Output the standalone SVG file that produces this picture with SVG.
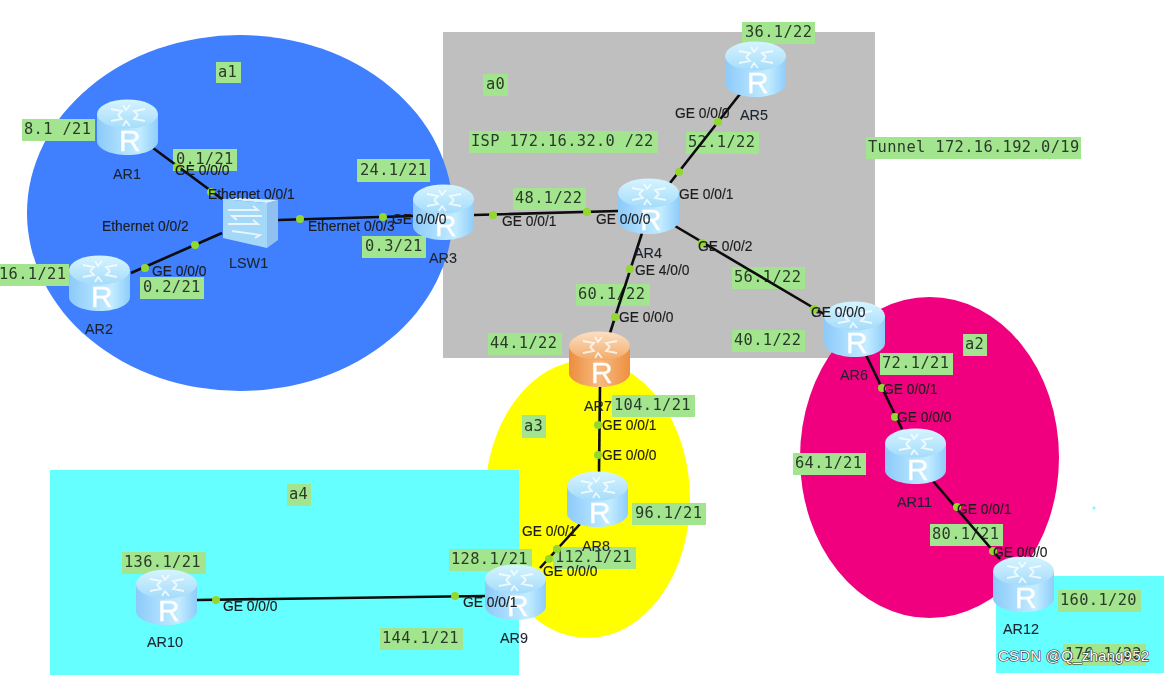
<svg xmlns="http://www.w3.org/2000/svg" xmlns:xlink="http://www.w3.org/1999/xlink" width="1164" height="675" viewBox="0 0 1164 675">
<style>
.lb{fill:#a3e48e}
.lt{font:15.4px "DejaVu Sans Mono","Liberation Mono",monospace;letter-spacing:.35px;fill:#2b3a2b}
.if{font:13.8px "Liberation Sans",Arial,sans-serif;fill:#1c1c1c;stroke:#1c1c1c;stroke-width:.15}
.nm{font:14.4px "Liberation Sans",Arial,sans-serif;fill:#1c2430;stroke:#1c2430;stroke-width:.1}
.ln{fill:none;stroke:#0a0a0a;stroke-width:2.6}
.dot{fill:#93d82e}
.rr{font:30px "Liberation Sans",Arial,sans-serif;fill:#fff;stroke:#fff;stroke-width:.3}
.ar{fill:none;stroke:#fff;stroke-width:1.8;opacity:.75}
</style>
<defs>
<filter id="soft" x="0" y="0" width="100%" height="100%"><feGaussianBlur stdDeviation="0.45"/></filter>
<linearGradient id="bb" x1="0" x2="1" y1="0" y2="0"><stop offset="0" stop-color="#8ccaf8"/><stop offset=".35" stop-color="#a9dcff"/><stop offset=".7" stop-color="#c3ecff"/><stop offset="1" stop-color="#8ecdfa"/></linearGradient>
<linearGradient id="bt" x1="0" x2="0" y1="0" y2="1"><stop offset="0" stop-color="#d6f4ff"/><stop offset="1" stop-color="#a5dcfa"/></linearGradient>
<linearGradient id="ob" x1="0" x2="1" y1="0" y2="0"><stop offset="0" stop-color="#ec8d3e"/><stop offset=".5" stop-color="#f7ba80"/><stop offset="1" stop-color="#ee8f40"/></linearGradient>
<linearGradient id="ot" x1="0" x2="0" y1="0" y2="1"><stop offset="0" stop-color="#fbe0c4"/><stop offset="1" stop-color="#f2aa68"/></linearGradient>
<g id="arrows">
<path class="ar" d="M14 9l11 2-4 4M48 9l-11 2 4 4M14 21l11-2-4-4M48 21l-11-2 4-4M26 5l3 5 4-5M26 26l3-5 4 5"/>
</g>
<g id="router">
<path fill="url(#bb)" d="M0 14v27c0 8 14 14 30.500 14s30.500-6 30.500-14V14z"/>
<ellipse cx="30.500" cy="14" rx="30.500" ry="14.500" fill="url(#bt)"/>
<use href="#arrows"/>
<text class="rr" x="22" y="51">R</text>
</g>
<g id="router-o">
<path fill="url(#ob)" d="M0 14v27c0 8 14 14 30.500 14s30.500-6 30.500-14V14z"/>
<ellipse cx="30.500" cy="14" rx="30.500" ry="14.500" fill="url(#ot)"/>
<use href="#arrows"/>
<text class="rr" x="22" y="51">R</text>
</g>
</defs>
<rect width="1164" height="675" fill="#fff"/>
<g filter="url(#soft)">
<g id="areas">
<rect x="443" y="32" width="432" height="326" fill="#bfbfbf"/>
<ellipse cx="240" cy="213" rx="213" ry="178" fill="#4080ff"/>
<ellipse cx="587.500" cy="499" rx="102.500" ry="139" fill="#ffff00"/>
<ellipse cx="929.500" cy="457.500" rx="129.500" ry="160.500" fill="#f0047f"/>
<rect x="50" y="470" width="469" height="205" fill="#66ffff"/>
<rect x="996" y="576" width="168" height="97" fill="#66ffff"/>
<circle cx="1094" cy="508" r="1.500" fill="#66ffff"/>
</g>
<g id="labels">
<rect class="lb" x="22" y="119" width="73" height="22"/><text class="lt" x="24" y="134" xml:space="preserve">8.1 /21</text>
<rect class="lb" x="173" y="149" width="64" height="22"/><text class="lt" x="176" y="164">0.1/21</text>
<rect class="lb" x="357" y="159" width="73" height="23"/><text class="lt" x="360" y="175">24.1/21</text>
<rect class="lb" x="362" y="236" width="64" height="22"/><text class="lt" x="365" y="251">0.3/21</text>
<rect class="lb" x="0" y="264" width="69" height="22"/><text class="lt" x="-1" y="279">16.1/21</text>
<rect class="lb" x="140" y="277" width="64" height="22"/><text class="lt" x="143" y="292">0.2/21</text>
<rect class="lb" x="216" y="62" width="25" height="21"/><text class="lt" x="218" y="77">a1</text>
<rect class="lb" x="483" y="74" width="25" height="22"/><text class="lt" x="486" y="89">a0</text>
<rect class="lb" x="469" y="131" width="189" height="22"/><text class="lt" x="471" y="146">ISP 172.16.32.0 /22</text>
<rect class="lb" x="742" y="22" width="73" height="22"/><text class="lt" x="745" y="37">36.1/22</text>
<rect class="lb" x="686" y="132" width="73" height="22"/><text class="lt" x="688" y="147">52.1/22</text>
<rect class="lb" x="513" y="188" width="73" height="22"/><text class="lt" x="515" y="203">48.1/22</text>
<rect class="lb" x="732" y="267" width="73" height="22"/><text class="lt" x="734" y="282">56.1/22</text>
<rect class="lb" x="576" y="284" width="74" height="22"/><text class="lt" x="578" y="299">60.1/22</text>
<rect class="lb" x="488" y="333" width="74" height="22"/><text class="lt" x="490" y="348">44.1/22</text>
<rect class="lb" x="732" y="330" width="73" height="22"/><text class="lt" x="734" y="345">40.1/22</text>
<rect class="lb" x="866" y="137" width="215" height="22"/><text class="lt" x="868" y="152">Tunnel 172.16.192.0/19</text>
<rect class="lb" x="612" y="395" width="83" height="22"/><text class="lt" x="614" y="410">104.1/21</text>
<rect class="lb" x="522" y="415" width="24" height="23"/><text class="lt" x="524" y="431">a3</text>
<rect class="lb" x="632" y="503" width="74" height="22"/><text class="lt" x="635" y="518">96.1/21</text>
<rect class="lb" x="449" y="549" width="83" height="22"/><text class="lt" x="451" y="564">128.1/21</text>
<rect class="lb" x="553" y="547" width="83" height="22"/><text class="lt" x="555" y="562">112.1/21</text>
<rect class="lb" x="380" y="628" width="83" height="22"/><text class="lt" x="382" y="643">144.1/21</text>
<rect class="lb" x="287" y="484" width="24" height="22"/><text class="lt" x="289" y="499">a4</text>
<rect class="lb" x="122" y="552" width="84" height="22"/><text class="lt" x="124" y="567">136.1/21</text>
<rect class="lb" x="880" y="353" width="73" height="22"/><text class="lt" x="882" y="368">72.1/21</text>
<rect class="lb" x="963" y="334" width="24" height="22"/><text class="lt" x="965" y="349">a2</text>
<rect class="lb" x="793" y="453" width="73" height="22"/><text class="lt" x="795" y="468">64.1/21</text>
<rect class="lb" x="930" y="524" width="73" height="22"/><text class="lt" x="932" y="539">80.1/21</text>
<rect class="lb" x="1058" y="590" width="83" height="22"/><text class="lt" x="1060" y="605">160.1/20</text>
<rect class="lb" x="1063" y="644" width="83" height="22"/><text class="lt" x="1065" y="659">176.1/22</text>
</g>
<g id="connectors">
<line class="ln" x1="153" y1="148" x2="222" y2="199"/>
<line class="ln" x1="131" y1="273" x2="222" y2="233"/>
<line class="ln" x1="278" y1="220" x2="413" y2="216"/>
<line class="ln" x1="474" y1="215" x2="618" y2="211"/>
<line class="ln" x1="670" y1="183" x2="740" y2="94"/>
<line class="ln" x1="675" y1="226" x2="824" y2="314"/>
<line class="ln" x1="642" y1="233" x2="610" y2="333"/>
<line class="ln" x1="600" y1="386" x2="599" y2="472"/>
<line class="ln" x1="580" y1="524" x2="540" y2="568"/>
<line class="ln" x1="197" y1="600" x2="485" y2="596"/>
<line class="ln" x1="866" y1="355" x2="902" y2="429"/>
<line class="ln" x1="933" y1="481" x2="1000" y2="559"/>
</g>
<g id="AR1"><use href="#router" x="97" y="100"/><text class="nm" x="113" y="179">AR1</text></g>
<g id="AR2"><use href="#router" x="69" y="256"/><text class="nm" x="85" y="334">AR2</text></g>
<g id="AR3"><use href="#router" x="413" y="185"/><text class="nm" x="429" y="263">AR3</text></g>
<g id="AR4"><use href="#router" x="618" y="179"/><text class="nm" x="634" y="258">AR4</text></g>
<g id="AR5"><use href="#router" x="725" y="42"/><text class="nm" x="740" y="120">AR5</text></g>
<g id="AR6"><use href="#router" x="824" y="302"/><text class="nm" x="840" y="380">AR6</text></g>
<g id="AR7"><use href="#router-o" x="569" y="332"/><text class="nm" x="584" y="411">AR7</text></g>
<g id="AR8"><use href="#router" x="567" y="472"/><text class="nm" x="582" y="551">AR8</text></g>
<g id="AR9"><use href="#router" x="485" y="565"/><text class="nm" x="500" y="643">AR9</text></g>
<g id="AR10"><use href="#router" x="136" y="570"/><text class="nm" x="147" y="647">AR10</text></g>
<g id="AR11"><use href="#router" x="885" y="429"/><text class="nm" x="897" y="507">AR11</text></g>
<g id="AR12"><use href="#router" x="993" y="557"/><text class="nm" x="1003" y="634">AR12</text></g>
<g id="LSW1">
<path fill="#8fc0f0" d="M267 203l11-3v40l-11 8z"/>
<path fill="#d7f2fc" d="M223 199l44 4 11-3-40-2z"/>
<path fill="#a4d8f8" d="M223 199l44 4v45l-44-10z"/>
<path class="ar" d="M228 210h30l-5-4M262 216h-30l5 4M228 224h30l-5-4M232 231l28 4-5 3"/>
<text class="nm" x="229" y="268">LSW1</text>
</g>
<g id="ports">
<circle class="dot" cx="177" cy="167" r="4"/><circle class="dot" cx="211" cy="192" r="4"/>
<circle class="dot" cx="145" cy="268" r="4"/><circle class="dot" cx="195" cy="245" r="4"/>
<circle class="dot" cx="300" cy="219" r="4"/><circle class="dot" cx="383" cy="217" r="4"/>
<circle class="dot" cx="493" cy="215" r="4"/><circle class="dot" cx="587" cy="212" r="4"/>
<circle class="dot" cx="679" cy="172" r="4"/><circle class="dot" cx="718" cy="122" r="4"/>
<circle class="dot" cx="702" cy="243" r="4"/><circle class="dot" cx="814" cy="309" r="4"/>
<circle class="dot" cx="630" cy="269" r="4"/><circle class="dot" cx="615" cy="317" r="4"/>
<circle class="dot" cx="598" cy="425" r="4"/><circle class="dot" cx="598" cy="455" r="4"/>
<circle class="dot" cx="557" cy="549" r="4"/><circle class="dot" cx="549" cy="559" r="4"/>
<circle class="dot" cx="216" cy="600" r="4"/><circle class="dot" cx="455" cy="596" r="4"/>
<circle class="dot" cx="882" cy="388" r="4"/><circle class="dot" cx="895" cy="417" r="4"/>
<circle class="dot" cx="957" cy="507" r="4"/><circle class="dot" cx="993" cy="551" r="4"/>
</g>
<g id="interfaces">
<text class="if" x="175" y="175">GE 0/0/0</text>
<text class="if" x="208" y="199">Ethernet 0/0/1</text>
<text class="if" x="102" y="231">Ethernet 0/0/2</text>
<text class="if" x="152" y="276">GE 0/0/0</text>
<text class="if" x="308" y="231">Ethernet 0/0/3</text>
<text class="if" x="392" y="224">GE 0/0/0</text>
<text class="if" x="675" y="118">GE 0/0/0</text>
<text class="if" x="679" y="199">GE 0/0/1</text>
<text class="if" x="502" y="226">GE 0/0/1</text>
<text class="if" x="596" y="224">GE 0/0/0</text>
<text class="if" x="698" y="251">GE 0/0/2</text>
<text class="if" x="635" y="275">GE 4/0/0</text>
<text class="if" x="619" y="322">GE 0/0/0</text>
<text class="if" x="811" y="317">GE 0/0/0</text>
<text class="if" x="602" y="430">GE 0/0/1</text>
<text class="if" x="602" y="460">GE 0/0/0</text>
<text class="if" x="522" y="536">GE 0/0/1</text>
<text class="if" x="543" y="576">GE 0/0/0</text>
<text class="if" x="463" y="607">GE 0/0/1</text>
<text class="if" x="223" y="611">GE 0/0/0</text>
<text class="if" x="883" y="394">GE 0/0/1</text>
<text class="if" x="897" y="422">GE 0/0/0</text>
<text class="if" x="957" y="514">GE 0/0/1</text>
<text class="if" x="993" y="557">GE 0/0/0</text>
</g>
</g>
<text x="998" y="661" style="font:15.200px 'Liberation Sans',Arial,sans-serif;fill:#fff;stroke:#333;stroke-width:1.2;paint-order:stroke;letter-spacing:.1px">CSDN @Q_zhang952</text>
</svg>
